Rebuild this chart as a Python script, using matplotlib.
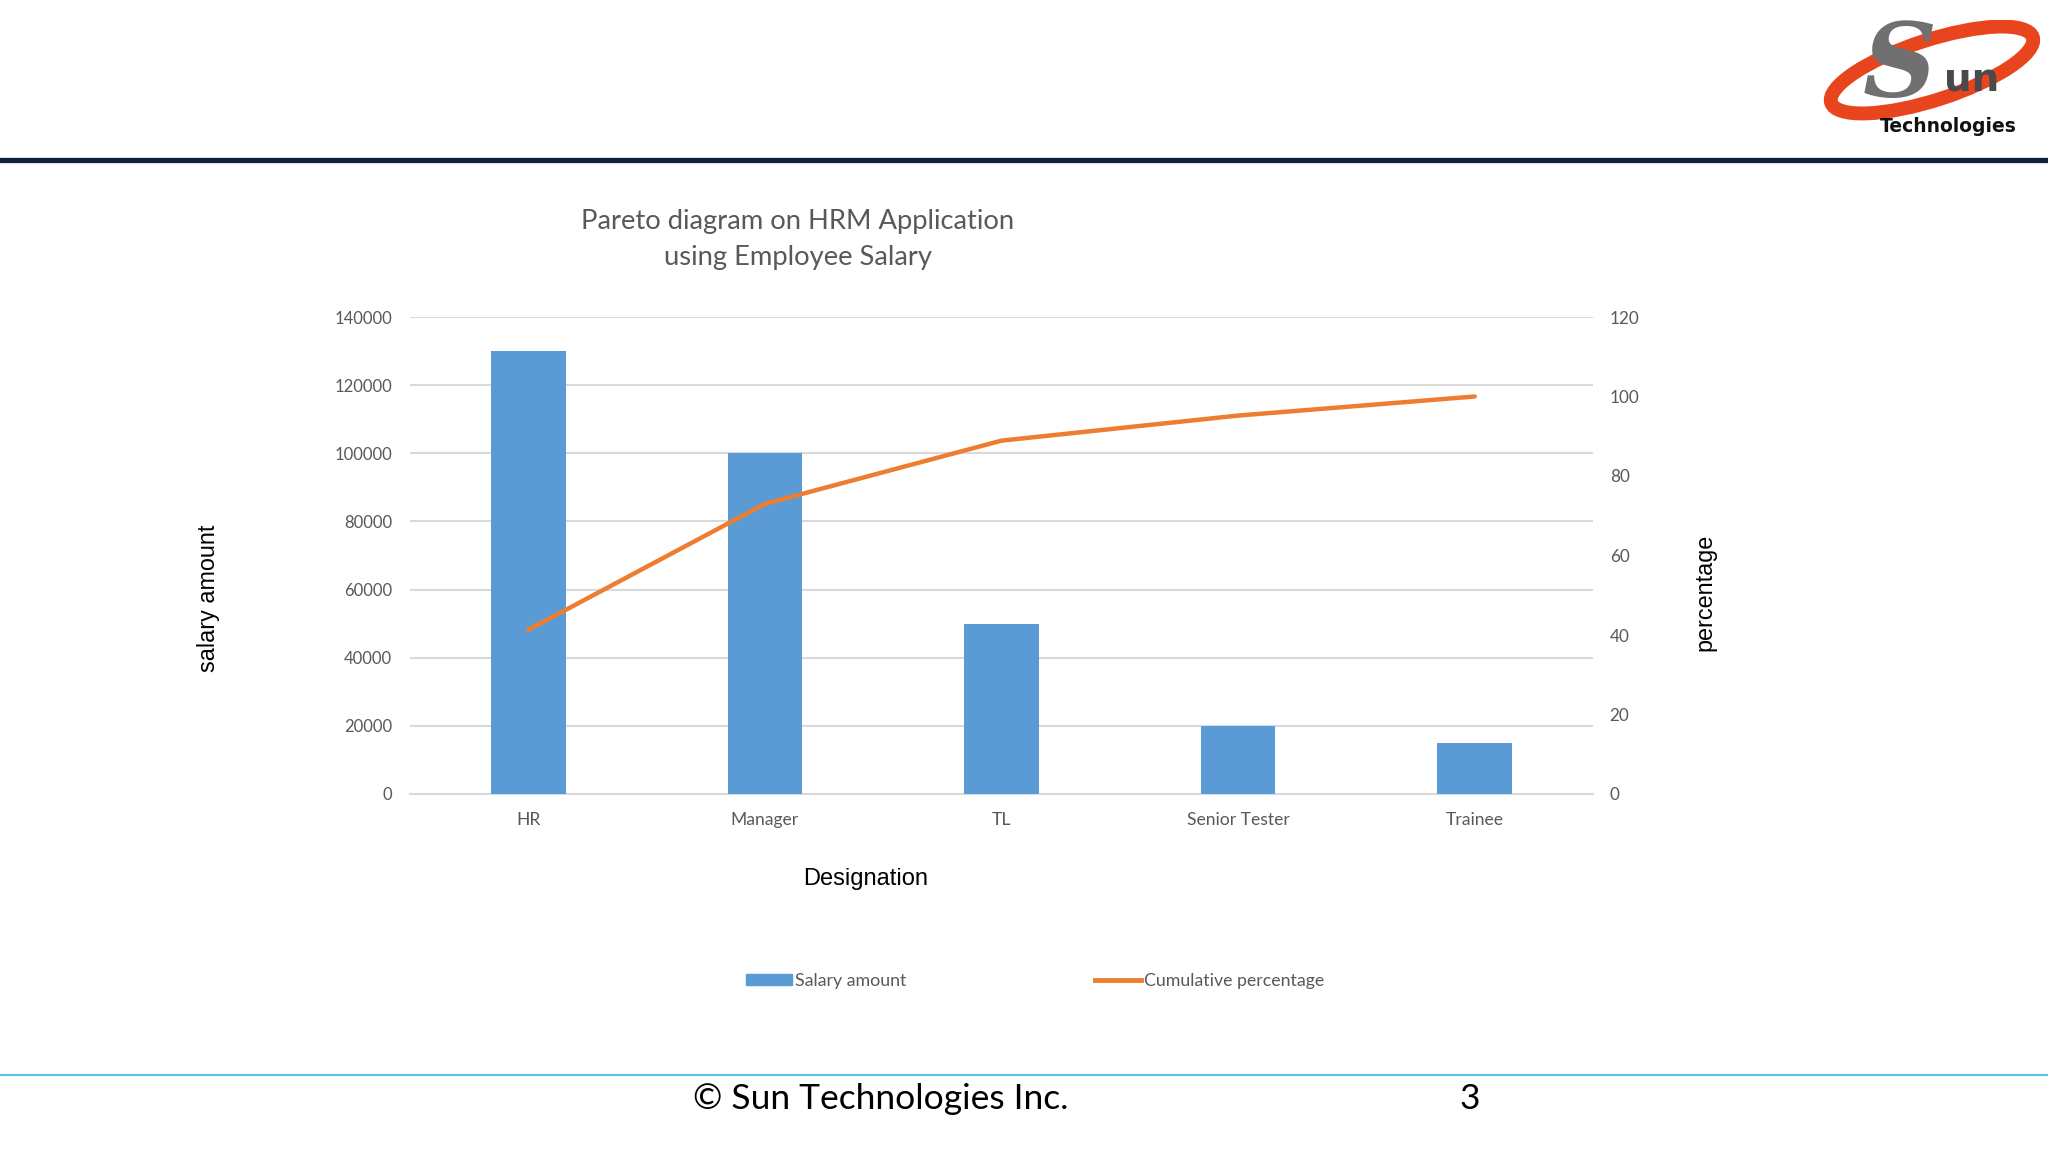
import matplotlib
matplotlib.use('Agg')
import matplotlib.pyplot as plt
from matplotlib.patches import Ellipse
from matplotlib.lines import Line2D
from matplotlib.patches import Patch

# data
designations = ['HR', 'Manager', 'TL', 'Senior Tester', 'Trainee']
salary_amount = [130000, 100000, 50000, 20000, 15000]
cumulative_pct = [41.3, 73.0, 88.9, 95.2, 100.0]
left_ticks = [0, 20000, 40000, 60000, 80000, 100000, 120000, 140000]
right_ticks = [0, 20, 40, 60, 80, 100, 120]

W, H = 2048, 1152
BLUE = '#5b9bd5'
ORANGE = '#ed7d31'
GREY_TXT = '#595959'
GRID = '#d9d9d9'
FONT = 'Lato'


def fx(px):
    return px / W


def fy(py):
    return 1 - py / H


fig = plt.figure(figsize=(20.48, 11.52), dpi=100)
fig.patch.set_facecolor('white')

# slide decorations
fig.add_artist(Line2D([0, 1], [fy(160), fy(160)], color='#0f1f3d', lw=3.8))
fig.add_artist(Line2D([0, 1], [fy(1075), fy(1075)], color='#5bc0e8', lw=1.6))
fig.text(fx(881), fy(1099), '\u00a9 Sun Technologies Inc.', fontsize=25.5, family=FONT,
         ha='center', va='center', color='black')
fig.text(fx(1470), fy(1099), '3', fontsize=25.5, family=FONT, ha='center', va='center',
         color='black')

# logo (rough)
logo = fig.add_axes([fx(1820), fy(140), fx(220), 120 / H])
logo.set_xlim(0, 220)
logo.set_ylim(0, 120)
logo.axis('off')
logo.add_patch(Ellipse((112, 70), 212, 60, angle=18, fill=False, ec='#e8451e', lw=10))
logo.text(80, 72, 'S', fontsize=74, family='DejaVu Serif', weight='bold', color='#707070',
          ha='center', va='center', style='italic')
logo.text(152, 60, 'un', fontsize=28, family='DejaVu Sans', weight='bold', color='#4a4a4a',
          ha='center', va='center')
logo.text(128, 13, 'Technologies', fontsize=13.5, family='DejaVu Sans', weight='bold',
          color='#111111', ha='center', va='center')

# chart
ax = fig.add_axes([fx(410), fy(794), fx(1593 - 410), (794 - 317) / H])
x = list(range(len(designations)))
ax.bar(x, salary_amount, width=0.315, color=BLUE, zorder=3)
ax.set_xlim(-0.5, len(designations) - 0.5)
ax.set_ylim(0, 140000)
ax.set_yticks(left_ticks)
ax.set_yticklabels([str(v) for v in left_ticks])
ax.set_xticks(x)
ax.set_xticklabels(designations)
ax.grid(axis='y', color=GRID, lw=1.5, zorder=0)
for s in ['top', 'left', 'right']:
    ax.spines[s].set_visible(False)
ax.spines['bottom'].set_color(GRID)
ax.spines['bottom'].set_linewidth(1.5)
ax.tick_params(axis='y', length=0, pad=13, labelsize=12, labelcolor=GREY_TXT)
ax.tick_params(axis='x', length=0, pad=13, labelsize=12.6, labelcolor=GREY_TXT)
for lab in ax.get_xticklabels() + ax.get_yticklabels():
    lab.set_family(FONT)

ax2 = ax.twinx()
ax2.plot(x, cumulative_pct, color=ORANGE, lw=3.2, solid_capstyle='round', zorder=4)
ax2.set_ylim(0, 120)
ax2.set_yticks(right_ticks)
ax2.set_yticklabels([str(v) for v in right_ticks])
for s in ['top', 'left', 'right', 'bottom']:
    ax2.spines[s].set_visible(False)
ax2.tick_params(axis='y', length=0, pad=12, labelsize=12.3, labelcolor=GREY_TXT)
for lab in ax2.get_yticklabels():
    lab.set_family(FONT)

# titles and axis labels
fig.text(fx(798), fy(240), 'Pareto diagram on HRM Application\nusing Employee Salary',
         fontsize=19.7, family=FONT, color=GREY_TXT, ha='center', va='center', linespacing=1.55)
fig.text(fx(209), fy(598), 'salary amount', rotation=90, fontsize=16.8,
         family='Liberation Sans', ha='center', va='center', color='black')
fig.text(fx(1705), fy(592), 'percentage', rotation=90, fontsize=16.8,
         family='Liberation Sans', ha='center', va='center', color='black')
fig.text(fx(866), fy(879), 'Designation', fontsize=17, family='Liberation Sans',
         ha='center', va='center', color='black')

# legend
handles = [Patch(color=BLUE, label='Salary amount'),
           Line2D([0], [0], color=ORANGE, lw=3.5, label='Cumulative percentage')]
leg = fig.legend(handles=handles, loc='center', bbox_to_anchor=(fx(1035), fy(981)), ncol=2,
                 frameon=False, columnspacing=10.6, handlelength=2.6,
                 handletextpad=0.15, handleheight=0.6, prop={'family': FONT, 'size': 12.8})
for t in leg.get_texts():
    t.set_color(GREY_TXT)

fig.savefig('out.png', dpi=100, facecolor='white')
